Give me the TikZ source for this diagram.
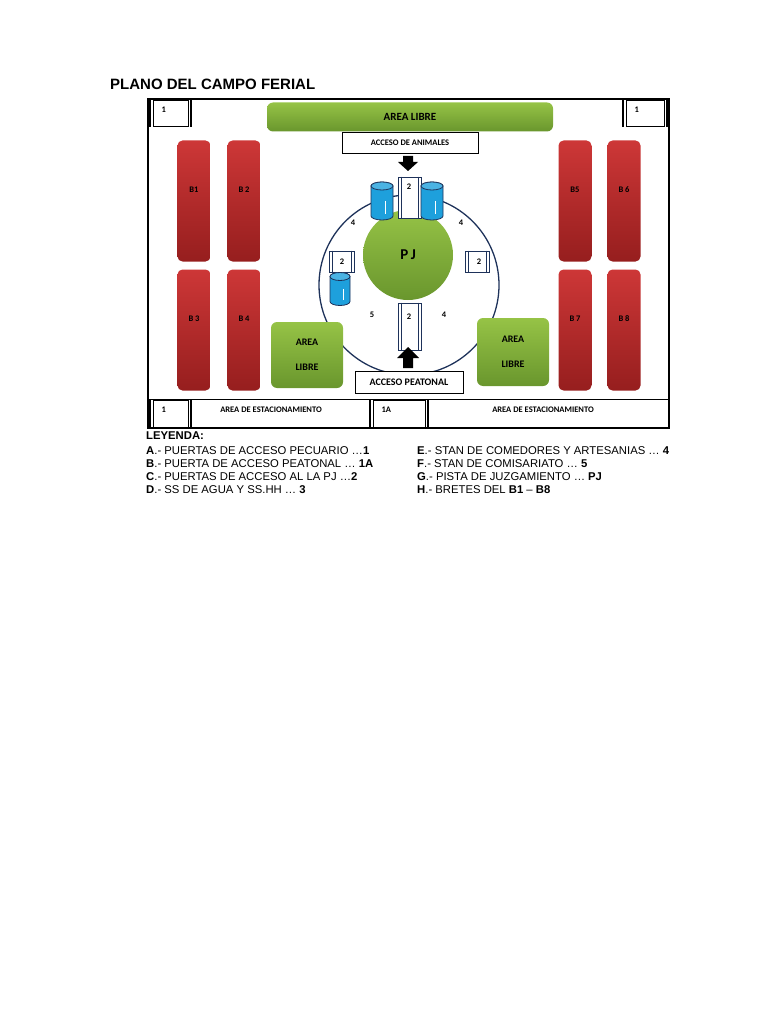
\documentclass[tikz,border=0pt]{standalone}
\usepackage{fontspec}
\setmainfont{Liberation Sans}
\newfontfamily\calfam{Carlito}
\usetikzlibrary{shapes.geometric}
\definecolor{redb}{RGB}{205,55,55}
\definecolor{redd}{RGB}{150,30,30}
\definecolor{grl}{RGB}{150,195,70}
\definecolor{grd}{RGB}{105,150,45}
\definecolor{cyl}{RGB}{30,160,220}
\definecolor{navy}{RGB}{30,50,90}
\begin{document}
\begin{tikzpicture}[x=1pt,y=-1pt,
 bin/.style={rounded corners=5pt,top color=redb,bottom color=redd,draw=none,font=\calfam\bfseries\fontsize{8.5}{9}\selectfont,text=black},
 green/.style={rounded corners=6pt,top color=grl,bottom color=grd,draw=none},
 lab/.style={font=\calfam\bfseries\fontsize{8.5}{9}\selectfont},
 gbox/.style={draw,line width=1.2pt,fill=white},
 pgate/.style={draw=navy,fill=white,line width=0.9pt},
 leg/.style={anchor=west,font=\fontsize{11.3}{13}\selectfont,inner sep=0pt}]
\useasboundingbox (0,0) rectangle (768,1024);
\node[anchor=west,font=\bfseries\fontsize{15}{17}\selectfont,inner sep=0] (title) at (110,84) {PLANO DEL CAMPO FERIAL};
\draw[line width=1.5pt] (148,99) rectangle (669,428);
\draw[line width=1pt] (148,399) -- (669,399);
% corner gates
\foreach \a/\b/\ya/\yb/\t/\n in {153/188/99/127/1/ga,626/664/99/127/1/gb,153/188/399/428/1/gc,373/425/399/428/1A/gd}{
 \draw[line width=1.2pt] (\a-3,\ya) -- (\a-3,\yb);
 \draw[line width=1.2pt] (\b+3,\ya) -- (\b+3,\yb);
 \node[gbox,minimum width=\b-\a,minimum height=\yb-\ya-2,anchor=north west,inner sep=0] (\n) at (\a,\ya+1) {};
 \node[lab,anchor=west] at (\a+5,\ya+11) {\t};
}
\node[green,minimum width=286,minimum height=29,inner sep=0,font=\calfam\bfseries\fontsize{11}{12}\selectfont] (al) at (410,117) {AREA LIBRE};
\node[draw,fill=white,minimum width=136,minimum height=21,inner sep=0,lab] (aa) at (410,143) {ACCESO DE ANIMALES};
\fill (403,156) -- (413,156) -- (413,162) -- (418,162) -- (408,171) -- (398,162) -- (403,162) -- cycle;
% barns
\foreach \x/\y/\t/\n in {194/201/B1/b1,244/201/B 2/b2,194/330/B 3/b3,244/330/B 4/b4,575/201/B5/b5,624/201/B 6/b6,575/330/B 7/b7,624/330/B 8/b8}{
 \node[bin,minimum width=33,minimum height=121,inner sep=0] (\n) at (\x,\y) {\raisebox{5.5ex}{\t}};
}
% circle
\node[circle,draw=navy,line width=1.3pt,minimum size=180,inner sep=0] (ring) at (409,285) {};
\node[circle,top color=grl,bottom color=grd,minimum size=90,inner sep=0,font=\calfam\bfseries\fontsize{15}{16}\selectfont] (pj) at (408,255) {P\,J};
% gates
\foreach \cx/\cy/\w/\h/\n in {409.5/197.5/23/41/pg1,409.5/326.5/23/47/pg2,341.5/261.5/25/21/pg3,477/261.5/24/21/pg4}{
 \node[pgate,minimum width=\w,minimum height=\h,inner sep=0,lab] (\n) at (\cx,\cy) {};
 \draw[navy,line width=0.9pt] ([xshift=3.5pt]\n.north west) -- ([xshift=3.5pt]\n.south west) ([xshift=-3.5pt]\n.north east) -- ([xshift=-3.5pt]\n.south east);
}
\node[lab] at (409,187) {2};
\node[lab] at (409,317) {2};
\node[lab] at (342,262) {2};
\node[lab] at (479,262) {2};
% cylinders (manual)
\foreach \cx/\cy/\w/\h in {382/201/22/38,432/201/22/38,340/289/20/33}{
 \pgfmathsetmacro{\rx}{\w/2}
 \fill[cyl,draw=navy,line width=0.8pt] (\cx-\rx,\cy-\h/2+4) -- (\cx-\rx,\cy+\h/2-4) arc[start angle=180,end angle=360,x radius=\rx,y radius=-4] -- (\cx+\rx,\cy-\h/2+4) arc[start angle=0,end angle=180,x radius=\rx,y radius=-4] -- cycle;
 \draw[navy,line width=0.8pt,fill=cyl!80!white] (\cx,\cy-\h/2+4) ellipse[x radius=\rx,y radius=4];
 \draw[white,line width=1pt] (\cx+3,\cy) -- (\cx+3,\cy+\h/2-6);
}
\node[lab] at (353,223) {4};
\node[lab] at (461,223) {4};
\node[lab] at (372,315) {5};
\node[lab] at (444,315) {4};
\node[green,minimum width=72,minimum height=66,inner sep=0,align=center,font=\calfam\bfseries\fontsize{10}{25}\selectfont] (al2) at (307,355) {AREA\\LIBRE};
\node[green,minimum width=72,minimum height=68,inner sep=0,align=center,font=\calfam\bfseries\fontsize{10}{25}\selectfont] (al3) at (513,352) {AREA\\LIBRE};
\fill (403,368) -- (413,368) -- (413,358) -- (419,358) -- (408,347) -- (397,358) -- (403,358) -- cycle;
\node[draw,fill=white,minimum width=108,minimum height=22,inner sep=0,font=\calfam\bfseries\fontsize{10}{11}\selectfont] (ap) at (409,382) {ACCESO PEATONAL};
\node[lab] at (271,410) {AREA DE ESTACIONAMIENTO};
\node[lab] at (543,410) {AREA DE ESTACIONAMIENTO};
% legend
\node[leg,font=\bfseries\fontsize{11.3}{13}\selectfont] at (146,436) {LEYENDA:};
\node[leg] at (146,451) {\textbf{A}.- PUERTAS DE ACCESO PECUARIO …\textbf{1}};
\node[leg] at (146,464) {\textbf{B}.- PUERTA DE ACCESO PEATONAL … \textbf{1A}};
\node[leg] at (146,477) {\textbf{C}.- PUERTAS DE ACCESO AL LA PJ …\textbf{2}};
\node[leg] at (146,490) {\textbf{D}.- SS DE AGUA Y SS.HH … \textbf{3}};
\node[leg] at (417,451) {\textbf{E}.- STAN DE COMEDORES Y ARTESANIAS … \textbf{4}};
\node[leg] at (417,464) {\textbf{F}.- STAN DE COMISARIATO … \textbf{5}};
\node[leg] at (417,477) {\textbf{G}.- PISTA DE JUZGAMIENTO … \textbf{PJ}};
\node[leg] at (417,490) {\textbf{H}.- BRETES DEL \textbf{B1} – \textbf{B8}};
\end{tikzpicture}
\end{document}
